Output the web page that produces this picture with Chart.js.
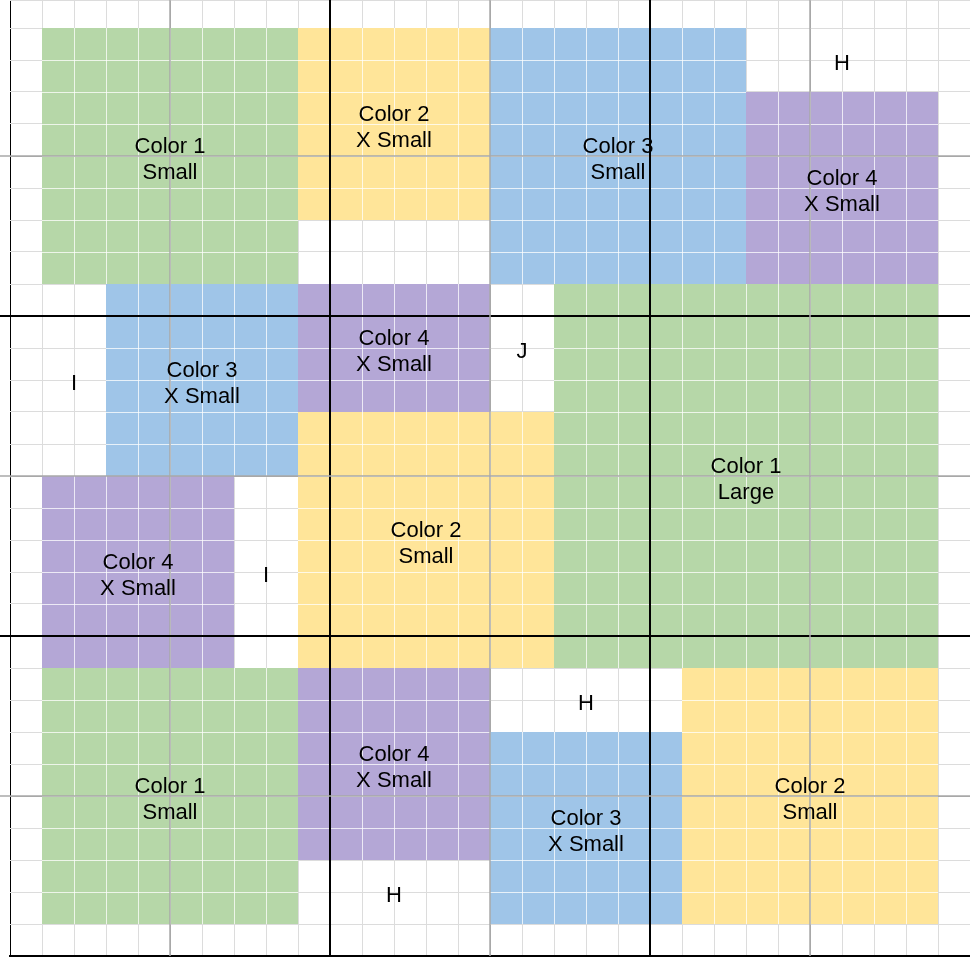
<!DOCTYPE html>
<html>
<head>
<meta charset="utf-8">
<script src="https://cdn.jsdelivr.net/npm/chart.js@4"></script>
<style>
  html, body { margin: 0; padding: 0; background: #fff; }
  #wrap { width: 970px; height: 958px; }
</style>
</head>
<body>
<div id="wrap"><canvas id="quilt"></canvas></div>
<script>
// grid units: x from left, y from top (rows), 30 x 30
const blockLabels = [
  "Color 1\nSmall", "Color 2\nX Small", "Color 3\nSmall", "H", "Color 4\nX Small",
  "I", "Color 3\nX Small", "Color 4\nX Small", "J", "Color 1\nLarge",
  "Color 2\nSmall", "Color 4\nX Small", "I",
  "Color 1\nSmall", "Color 4\nX Small", "H", "H", "Color 3\nX Small", "Color 2\nSmall"
];
const blockColors = [
  "green", "yellow", "blue", "none", "purple",
  "none", "blue", "purple", "none", "green",
  "yellow", "purple", "none",
  "green", "purple", "none", "none", "blue", "yellow"
];
const blockX0 = [1, 9, 15, 23, 23, 1, 3, 9, 15, 17, 9, 1, 7, 1, 9, 9, 15, 15, 21];
const blockX1 = [9, 15, 23, 29, 29, 3, 9, 15, 17, 29, 17, 7, 9, 9, 15, 15, 21, 21, 29];
const blockR0 = [1, 1, 1, 1, 3, 9, 9, 9, 9, 9, 13, 15, 15, 21, 21, 27, 21, 23, 21];
const blockR1 = [9, 7, 9, 3, 9, 15, 15, 13, 13, 21, 21, 21, 21, 29, 27, 29, 23, 29, 29];

const palette = { green: "#b6d7a8", yellow: "#ffe599", blue: "#9fc5e8", purple: "#b4a7d6" };
const TOP = 29.875;

function lineColor(v) {
  if (v % 10 === 0) return "#000";
  if (v % 5 === 0) return "#a8a8a8";
  return "#dcdcdc";
}

const quiltPlugin = {
  id: "quilt",
  beforeDatasetsDraw(chart) {
    const { ctx, scales: { x, y }, chartArea } = chart;
    const py = r => y.getPixelForValue(TOP - r + 0.125 - 0.125 + 0) ; // rows counted from top
    const rowPx = r => y.getPixelForValue(TOP - (r - 0.125));
    ctx.save();
    for (let i = 0; i < blockLabels.length; i++) {
      const l = x.getPixelForValue(blockX0[i]), r = x.getPixelForValue(blockX1[i]);
      const t = rowPx(blockR0[i]), b = rowPx(blockR1[i]);
      if (blockColors[i] !== "none") {
        ctx.fillStyle = palette[blockColors[i]];
        ctx.fillRect(l, t, r - l, b - t);
        // light cell lines inside the block
        ctx.strokeStyle = "rgba(255,255,255,0.75)";
        ctx.lineWidth = 1;
        ctx.beginPath();
        for (let c = blockX0[i] + 1; c < blockX1[i]; c++) {
          const px = Math.round(x.getPixelForValue(c)) + 0.5;
          ctx.moveTo(px, t); ctx.lineTo(px, b);
        }
        for (let rr = blockR0[i] + 1; rr < blockR1[i]; rr++) {
          const pyy = Math.round(rowPx(rr)) + 0.5;
          ctx.moveTo(l, pyy); ctx.lineTo(r, pyy);
        }
        ctx.stroke();
      }
    }
    // major lines on top
    for (let v = 5; v < 30; v += 5) {
      ctx.strokeStyle = lineColor(v);
      ctx.lineWidth = v % 10 === 0 ? 2 : 1.5;
      const px = x.getPixelForValue(v);
      ctx.beginPath(); ctx.moveTo(px, chartArea.top); ctx.lineTo(px, chartArea.bottom); ctx.stroke();
      const pyy = rowPx(v);
      ctx.beginPath(); ctx.moveTo(chartArea.left - 10, pyy); ctx.lineTo(chartArea.right, pyy); ctx.stroke();
    }
    // labels
    ctx.fillStyle = "#000";
    ctx.font = "22px 'Liberation Sans', Arial, sans-serif";
    ctx.textAlign = "center";
    ctx.textBaseline = "middle";
    for (let i = 0; i < blockLabels.length; i++) {
      const cx = (x.getPixelForValue(blockX0[i]) + x.getPixelForValue(blockX1[i])) / 2;
      const cy = (rowPx(blockR0[i]) + rowPx(blockR1[i])) / 2 + 4;
      const lines = blockLabels[i].split("\n");
      lines.forEach((s, k) => ctx.fillText(s, cx, cy + (k - (lines.length - 1) / 2) * 26));
    }
    ctx.restore();
  }
};

new Chart(document.getElementById("quilt"), {
  type: "scatter",
  data: { datasets: [{ data: [] }] },
  options: {
    responsive: true,
    maintainAspectRatio: false,
    animation: false,
    layout: { padding: { left: 10, right: 0, top: 0, bottom: 2 } },
    plugins: { legend: { display: false }, tooltip: { enabled: false } },
    scales: {
      x: {
        type: "linear", min: 0, max: 30,
        ticks: { display: false, stepSize: 1 },
        grid: { color: c => lineColor(c.tick.value), drawTicks: false, lineWidth: 1 },
        border: { display: true, color: "#000", width: 2 }
      },
      y: {
        type: "linear", min: 0, max: TOP,
        ticks: { display: false, stepSize: 1 },
        grid: { color: c => lineColor(c.tick.value), drawTicks: false, lineWidth: 1 },
        border: { display: false }
      }
    }
  },
  plugins: [quiltPlugin]
});
</script>
</body>
</html>
